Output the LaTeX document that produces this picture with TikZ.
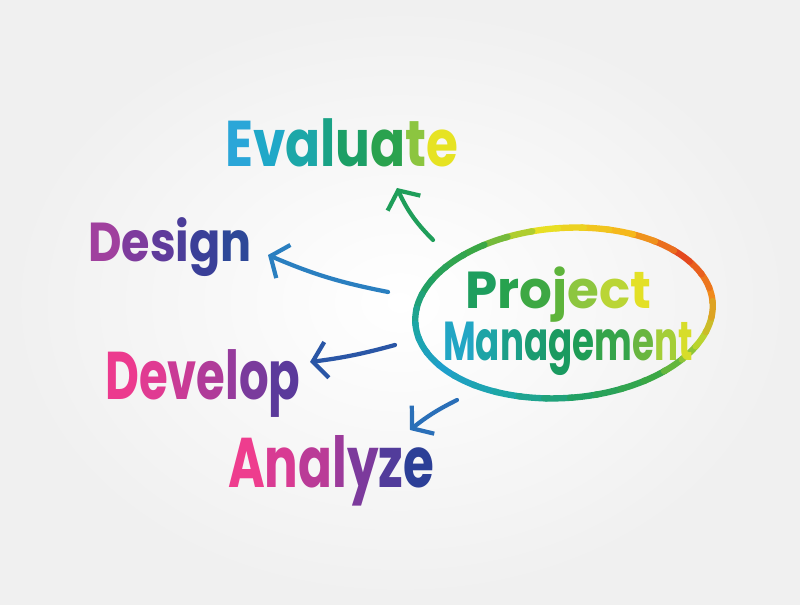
\documentclass[tikz,border=0pt]{standalone}
\usepackage{fontspec}
\setmainfont{Poppins}
\usetikzlibrary{arrows.meta,shapes.geometric}

\definecolor{rgRed}{HTML}{E4491F}
\definecolor{rgOrange}{HTML}{F08A1C}
\definecolor{rgGold}{HTML}{F5B81C}
\definecolor{rgYellow}{HTML}{E8DF24}
\definecolor{rgLime}{HTML}{B9D42E}
\definecolor{rgGreen}{HTML}{3AA745}
\definecolor{rgJade}{HTML}{22A063}
\definecolor{rgTeal}{HTML}{1DA6A6}
\definecolor{rgBlue}{HTML}{1E9FCA}

\newcommand{\ch}[2]{\textcolor[HTML]{#1}{#2}}

\tikzset{
	word/.style={anchor=base west, inner sep=0pt},
	arr/.style={line width=3pt, line cap=round, line join=round,
		-{Straight Barb[length=3.5mm,width=9mm,line width=3pt]}},
}

\begin{document}
\begin{tikzpicture}

	\shade[inner color=white, outer color=black!6] (0,0) rectangle (20,15.125);
	\useasboundingbox (0,0) rectangle (20,15.125);

	% words round the ring
	\node[word, xscale=0.80, font=\bfseries\fontsize{46}{46}\selectfont] (evaluate) at (5.625,10.95)
		{\ch{2AA6D8}{E}\ch{1FA8C8}{v}\ch{1CA7A8}{a}\ch{1AA286}{l}\ch{1C9F66}{u}\ch{2AA24E}{a}\ch{8CC540}{t}\ch{E6E322}{e}};
	\node[word, xscale=0.84, font=\bfseries\fontsize{39}{39}\selectfont] (design) at (2.2,8.575)
		{\ch{A0409E}{D}\ch{7E3C9D}{e}\ch{5F3B9B}{s}\ch{4B3D99}{i}\ch{3A3F98}{g}\ch{2E4898}{n}};
	\node[word, xscale=0.69, font=\bfseries\fontsize{48}{48}\selectfont] (develop) at (2.625,5.125)
		{\ch{EC3A8E}{D}\ch{E03B92}{e}\ch{C93B96}{v}\ch{B03B99}{e}\ch{963B9C}{l}\ch{7A3B9C}{o}\ch{5B3A9B}{p}};
	\node[word, xscale=0.71, font=\bfseries\fontsize{50}{50}\selectfont] (analyze) at (5.7,2.925)
		{\ch{EE3D8E}{A}\ch{D83B93}{n}\ch{BA3B97}{a}\ch{9C3B9B}{l}\ch{7C3A9C}{y}\ch{523C9B}{z}\ch{2C3F97}{e}};

	% centre
	\node[ellipse, minimum width=7.45cm, minimum height=4.25cm, rotate=4] (pm) at (14.1,7.3) {};
	\begin{scope}[shift={(pm.center)}, rotate=4]
		\foreach \a/\ca/\cb in {0/rgOrange/rgRed, 30/rgRed/rgGold, 60/rgGold/rgYellow, 90/rgYellow/rgGreen,
			120/rgGreen/rgJade, 150/rgJade/rgTeal, 180/rgTeal/rgBlue, 210/rgBlue/rgTeal,
			240/rgTeal/rgJade, 270/rgJade/rgGreen, 300/rgGreen/rgLime, 330/rgLime/rgOrange}{
			\foreach \k in {0,1,2}{
				\pgfmathtruncatemacro\p{100-33*\k}
				\pgfmathsetmacro\s{\a+10*\k}
				\draw[line width=4.5pt, line cap=round, color=\ca!\p!\cb]
					(\s:3.725 and 2.125) arc[start angle=\s, delta angle=11, x radius=3.725, y radius=2.125];
			}
		}
	\end{scope}
	\node[word, xscale=0.99, font=\bfseries\fontsize{37}{37}\selectfont] (project) at (11.625,7.42)
		{\ch{1E9E5E}{P}\ch{27A24E}{r}\ch{3DA843}{o}\ch{5EB43B}{j}\ch{8DC63F}{e}\ch{BAD535}{c}\ch{E3E026}{t}};
	\node[word, xscale=0.65, font=\bfseries\fontsize{39}{39}\selectfont] (management) at (11.075,6.1)
		{\ch{22A6C4}{M}\ch{1DA4A6}{a}\ch{1B9F88}{n}\ch{1A9B70}{a}\ch{1A9A60}{g}\ch{1E9D56}{e}\ch{35A44A}{m}\ch{69B640}{e}\ch{A4CE37}{n}\ch{D7DD2A}{t}};

	% arrows
	\coordinate (evS) at (10.825,9.125);
	\coordinate (evT) at (9.925,10.425);
	\coordinate (deS) at (9.7,7.825);
	\coordinate (deT) at (6.7,8.75);
	\coordinate (dvS) at (9.875,6.5);
	\coordinate (dvT) at (7.75,6.075);
	\coordinate (anS) at (11.425,5.125);
	\coordinate (anT) at (10.25,4.375);

	\draw[arr, color={rgb,255:red,31;green,158;blue,90}] (evS) to[bend left=10] (evT);
	\draw[arr, color={rgb,255:red,42;green,127;blue,192}] (deS) to[bend left=6] (deT);
	\draw[arr, color={rgb,255:red,42;green,86;blue,166}] (dvS) to[bend left=4] (dvT);
	\draw[arr, color={rgb,255:red,42;green,111;blue,184}] (anS) to[bend right=6] (anT);

\end{tikzpicture}
\end{document}
